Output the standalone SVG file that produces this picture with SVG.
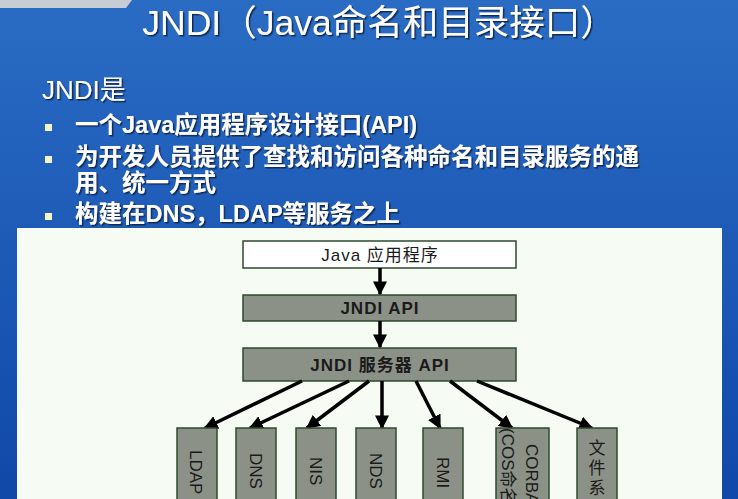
<svg xmlns="http://www.w3.org/2000/svg" width="738" height="499" viewBox="0 0 738 499">
<defs>
<linearGradient id="bg" x1="0" y1="0" x2="0" y2="1"><stop offset="0" stop-color="#2a6cc4"/><stop offset="1" stop-color="#1048a8"/></linearGradient>
<filter id="sh"><feDropShadow dx="1.5" dy="1.5" stdDeviation="0.6" flood-color="#08204a" flood-opacity="0.9"/></filter>
<marker id="ah" viewBox="0 0 10 10" refX="9" refY="5" markerWidth="4" markerHeight="4" orient="auto"><path d="M0,0L10,5L0,10z" fill="#000"/></marker>
</defs>
<style>
.t{fill:#fff;font-family:"Liberation Sans","Noto Sans CJK SC",sans-serif;filter:url(#sh)}
.bt{font-size:23.5px;font-weight:bold}
.b{fill:#8c9187;stroke:#2e4a2e;stroke-width:1.5}
.l{font-family:"Liberation Sans","Noto Sans CJK SC",sans-serif;font-size:17px;fill:#1a1a1a}
.c line{stroke:#000;stroke-width:3.5;marker-end:url(#ah)}
.sq{fill:#f4f4c8}
</style>
<rect width="738" height="499" fill="url(#bg)"/>
<path d="M0,0H132L126,8H0z" fill="#c8ccd4"/>
<text class="t" x="379" y="35" font-size="35.5" text-anchor="middle">JNDI（Java命名和目录接口）</text>
<text class="t" x="42" y="99" font-size="26">JNDI是</text>
<rect class="sq" x="45" y="124" width="7" height="7"/>
<text class="t bt" x="75" y="133">一个Java应用程序设计接口(API)</text>
<rect class="sq" x="45" y="156" width="7" height="7"/>
<text class="t bt" x="75" y="165">为开发人员提供了查找和访问各种命名和目录服务的通</text>
<text class="t bt" x="75" y="191">用、统一方式</text>
<rect class="sq" x="45" y="213" width="7" height="7"/>
<text class="t bt" x="75" y="222">构建在DNS，LDAP等服务之上</text>
<rect x="17" y="228" width="705" height="271" fill="#f6fbf4"/>
<g id="app"><rect x="243" y="241" width="273" height="27" fill="#fff" stroke="#2e4a2e" stroke-width="1.5"/><text class="l" x="380" y="261" text-anchor="middle" letter-spacing="1">Java 应用程序</text></g>
<g id="api"><rect class="b" x="243" y="295" width="273" height="26"/><text class="l" x="380" y="314" text-anchor="middle" font-weight="bold" letter-spacing="1">JNDI API</text></g>
<g id="spi"><rect class="b" x="243" y="348" width="273" height="33"/><text class="l" x="380" y="371" text-anchor="middle" font-weight="bold" letter-spacing="1">JNDI 服务器 API</text></g>
<g class="c">
<line x1="380" y1="268" x2="380" y2="294"/>
<line x1="380" y1="321" x2="380" y2="347"/>
<line x1="302" y1="381" x2="205" y2="428"/>
<line x1="349" y1="381" x2="250" y2="428"/>
<line x1="369" y1="381" x2="307" y2="428"/>
<line x1="382" y1="381" x2="382" y2="428"/>
<line x1="416" y1="381" x2="440" y2="428"/>
<line x1="450" y1="381" x2="512" y2="428"/>
<line x1="477" y1="381" x2="592" y2="428"/>
</g>
<g id="ldap"><rect class="b" x="177" y="428" width="40" height="80"/><text class="l" transform="translate(190,450) rotate(90)">LDAP</text></g>
<g id="dns"><rect class="b" x="236" y="428" width="40" height="80"/><text class="l" transform="translate(250,453) rotate(90)">DNS</text></g>
<g id="nis"><rect class="b" x="296" y="428" width="40" height="80"/><text class="l" transform="translate(310,457) rotate(90)">NIS</text></g>
<g id="nds"><rect class="b" x="356" y="428" width="40" height="80"/><text class="l" transform="translate(370,453) rotate(90)">NDS</text></g>
<g id="rmi"><rect class="b" x="423" y="428" width="40" height="80"/><text class="l" transform="translate(437,457) rotate(90)">RMI</text></g>
<g id="corba"><rect class="b" x="496" y="428" width="53" height="80"/><text class="l" transform="translate(526,444) rotate(90)">CORBA</text><text class="l" transform="translate(502,428) rotate(90)">(COS命名)</text></g>
<g id="fs"><rect class="b" x="577" y="428" width="40" height="80"/><text class="l" x="597" y="454" text-anchor="middle">文</text><text class="l" x="597" y="474" text-anchor="middle">件</text><text class="l" x="597" y="494" text-anchor="middle">系</text><text class="l" x="597" y="514" text-anchor="middle">统</text></g>
</svg>
